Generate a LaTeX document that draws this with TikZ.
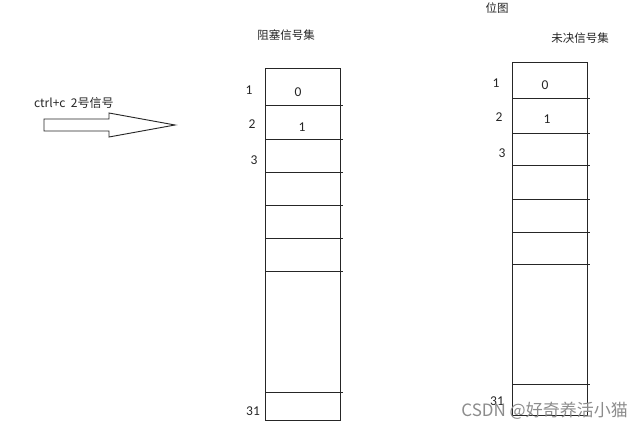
\documentclass[tikz,border=0pt]{standalone}
\usepackage{fontspec}
\setmainfont{Carlito}
\newfontfamily\cjk{Noto Sans CJK SC}
\begin{document}
\begin{tikzpicture}[x=1pt,y=-1pt,
  ln/.style={draw=black!85,line width=0.9pt},
  lab/.style={font=\fontsize{13.5}{15}\selectfont,text=black!85,inner sep=0pt},
  title/.style={font=\cjk\fontsize{11.5}{14}\selectfont,text=black!85,inner sep=0pt}]
\useasboundingbox (0,0) rectangle (643,433);
\fill[white] (0,0) rectangle (643,433);
% arrow
\node[font=\fontsize{12}{14}\selectfont\cjk,text=black!85,inner sep=0pt,anchor=west] (arrtxt) at (34,103) {ctrl+c\ \ 2号信号};
\coordinate (a1) at (44,119);
\coordinate (a2) at (109,119);
\coordinate (a3) at (109,113);
\coordinate (tip) at (175,125);
\coordinate (a4) at (109,137);
\coordinate (a5) at (109,131);
\coordinate (a6) at (44,131);
\draw[ln,line join=miter] (a1) -- (a2) -- (a3) -- (tip) -- (a4) -- (a5) -- (a6) -- cycle;
% left box
\coordinate (L) at (265,68);
\coordinate (Lb) at (340,420);
\draw[ln] (L) rectangle (Lb);
\foreach \y in {105,139,172,205,238,271,392}{\draw[ln] (265,\y) -- (343,\y);}
\node[title] (t1) at (286,35) {阻塞信号集};
\node[lab] (l1) at (249,90) {1};
\node[lab] (l2) at (252,124) {2};
\node[lab] (l3) at (254,160) {3};
\node[lab] (l31) at (253,411) {31};
\node[lab] (v0) at (298,92) {0};
\node[lab] (v1) at (302,127) {1};
% right box
\coordinate (R) at (512,62);
\coordinate (Rb) at (587,415);
\draw[ln] (R) rectangle (Rb);
\foreach \y in {98,133,165,199,232,264,384}{\draw[ln] (512,\y) -- (590,\y);}
\node[title] (t0) at (497,8) {位图};
\node[title] (t2) at (580,38) {未决信号集};
\node[lab] (r1) at (496,83) {1};
\node[lab] (r2) at (499,117) {2};
\node[lab] (r3) at (502,153) {3};
\node[lab] (r31) at (497,401) {31};
\node[lab] (w0) at (545,85) {0};
\node[lab] (w1) at (547,119) {1};
% watermark
\node[font=\cjk\fontsize{17}{20}\selectfont,text=black!45,inner sep=0pt,anchor=east] (wm) at (628,411) {CSDN @好奇养活小猫};
\end{tikzpicture}
\end{document}
